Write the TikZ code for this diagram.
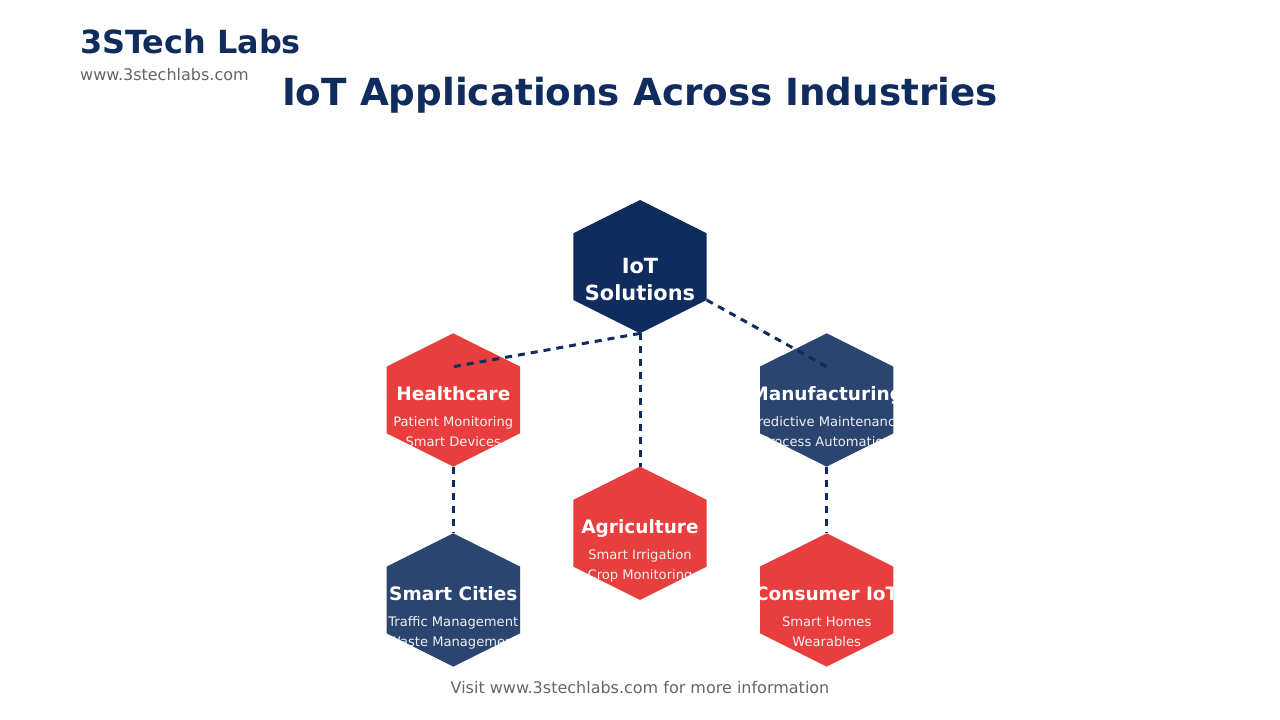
\documentclass[tikz,border=0pt]{standalone}
\usepackage{fontspec}
\setmainfont{DejaVu Sans}
\usetikzlibrary{calc}
\definecolor{navy}{RGB}{16,43,93}
\definecolor{midnavy}{RGB}{43,69,112}
\definecolor{hexred}{RGB}{232,62,62}
\definecolor{greytext}{RGB}{102,102,102}
\newcommand{\hexcell}[4]{%
	\coordinate (#1) at (#2);
	\coordinate (#1-t) at ($(#1)+(0,-66.7)$);
	\coordinate (#1-b) at ($(#1)+(0,66.7)$);
	\coordinate (#1-m) at ($(#1)+(0,-33.3)$);
	\coordinate (#1-br) at ($(#1)+(66.7,33.3)$);
	\begin{scope}
		\clip (#1-t) -- ++(66.7,33.3) -- ++(0,66.7) -- ++(-66.7,33.3) -- ++(-66.7,-33.3) -- ++(0,-66.7) -- cycle;
		\fill[#3] ($(#1)+(-70,-70)$) rectangle ($(#1)+(70,70)$);
		#4
	\end{scope}}
\newcommand{\hexlabel}[4]{%
	\node[hextitle] (#1-name) at (#1) {#2};
	\node[hexsub] (#1-sub1) at ($(#1)+(0,26.5)$) {#3};
	\node[hexsub] (#1-sub2) at ($(#1)+(0,46.5)$) {#4};}
\begin{document}
\begin{tikzpicture}[x=1pt,y=-1pt,line join=round,
		hextitle/.style={anchor=base,inner sep=0pt,text=white,font=\fontsize{18.5}{22}\selectfont\bfseries},
		hexsub/.style={anchor=base,inner sep=0pt,text=white,text opacity=0.92,font=\fontsize{13.1}{16}\selectfont},
		link/.style={draw=navy,line width=3pt,dash pattern=on 7pt off 6pt}]
	\useasboundingbox[fill=white] (0,0) rectangle (1280,720);
	\node[anchor=base west,inner sep=0pt,text=navy,font=\fontsize{31.9}{38}\selectfont\bfseries] (brand) at (80,53.3) {3STech Labs};
	\node[anchor=base west,inner sep=0pt,text=greytext,font=\fontsize{16}{19}\selectfont] (site) at (80,80) {www.3stechlabs.com};
	\node[anchor=base,inner sep=0pt,text=navy,font=\fontsize{37.3}{44}\selectfont\bfseries] (title) at (640,105) {IoT Applications Across Industries};
	\hexcell{iot}{640,266.7}{navy}{%
		\node[hextitle,font=\fontsize{20.9}{25}\selectfont\bfseries] (iot-l1) at ($(iot)+(0,6.7)$) {IoT};
		\node[hextitle,font=\fontsize{20.9}{25}\selectfont\bfseries] (iot-l2) at ($(iot)+(0,33.3)$) {Solutions};}
	\hexcell{hc}{453.3,400}{hexred}{\hexlabel{hc}{Healthcare}{Patient Monitoring}{Smart Devices}}
	\hexcell{mf}{826.7,400}{midnavy}{\hexlabel{mf}{Manufacturing}{Predictive Maintenance}{Process Automation}}
	\hexcell{ag}{640,533.3}{hexred}{\hexlabel{ag}{Agriculture}{Smart Irrigation}{Crop Monitoring}}
	\hexcell{sc}{453.3,600}{midnavy}{\hexlabel{sc}{Smart Cities}{Traffic Management}{Waste Management}}
	\hexcell{ci}{826.7,600}{hexred}{\hexlabel{ci}{Consumer IoT}{Smart Homes}{Wearables}}
	\draw[link] (iot-b) -- (hc-m);
	\draw[link] (iot-b) -- (ag-t);
	\draw[link] (iot-br) -- (mf-m);
	\draw[link] (hc-b) -- (sc-t);
	\draw[link] (mf-b) -- (ci-t);
	\node[anchor=base,inner sep=0pt,text=greytext,font=\fontsize{16}{19}\selectfont] (footer) at (640,693) {Visit www.3stechlabs.com for more information};
\end{tikzpicture}
\end{document}
